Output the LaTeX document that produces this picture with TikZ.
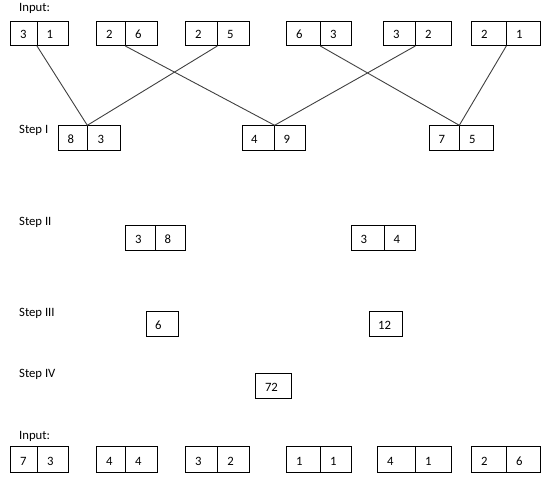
\documentclass[tikz,border=0pt]{standalone}
\usepackage{fontspec}
\setmainfont{Carlito}
\begin{document}
\begin{tikzpicture}[x=1pt,y=-1pt,every node/.style={inner sep=0pt}]
            \useasboundingbox (0,0) rectangle (545,478);
            {\fontsize{12.7}{15}\selectfont

            % Marking step labels
            \draw (19.0,12.0) node (lblintop) [anchor=base west] {Input:};%
            \draw (19.0,134.0) node (lblone) [anchor=base west] {Step I};%
            \draw (19.0,225.0) node (lbltwo) [anchor=base west] {Step II};%
            \draw (19.0,316.0) node (lblthree) [anchor=base west] {Step III};%
            \draw (19.0,377.0) node (lblfour) [anchor=base west] {Step IV};%
            \draw (19.0,439.0) node (lblinbot) [anchor=base west] {Input:};%

            % Drawing input boxes (top)
            \draw [line width=1pt] (10.3,21.3) rectangle (68.3,46.0);%
            \draw [line width=1pt] (37.0,21.3) -- (37.0,46.0);%
            \draw [line width=1pt] (96.3,21.3) rectangle (157.3,46.0);%
            \draw [line width=1pt] (125.3,21.3) -- (125.3,46.0);%
            \draw [line width=1pt] (185.3,21.3) rectangle (249.3,46.0);%
            \draw [line width=1pt] (217.3,21.3) -- (217.3,46.0);%
            \draw [line width=1pt] (286.3,21.3) rectangle (351.3,46.0);%
            \draw [line width=1pt] (320.3,21.3) -- (320.3,46.0);%
            \draw [line width=1pt] (383.3,21.3) rectangle (451.3,46.0);%
            \draw [line width=1pt] (415.3,21.3) -- (415.3,46.0);%
            \draw [line width=1pt] (471.3,21.3) rectangle (540.3,46.0);%
            \draw [line width=1pt] (506.3,21.3) -- (506.3,46.0);%
            \draw (19.8,39.0) node (ta) [anchor=base west] {3};%
            \draw (46.5,39.0) node (tb) [anchor=base west] {1};%
            \draw (105.8,39.0) node (tc) [anchor=base west] {2};%
            \draw (134.8,39.0) node (td) [anchor=base west] {6};%
            \draw (194.8,39.0) node (te) [anchor=base west] {2};%
            \draw (226.8,39.0) node (tf) [anchor=base west] {5};%
            \draw (295.8,39.0) node (tg) [anchor=base west] {6};%
            \draw (329.8,39.0) node (th) [anchor=base west] {3};%
            \draw (392.8,39.0) node (ti) [anchor=base west] {3};%
            \draw (424.8,39.0) node (tj) [anchor=base west] {2};%
            \draw (480.8,39.0) node (tk) [anchor=base west] {2};%
            \draw (515.8,39.0) node (tl) [anchor=base west] {1};%

            % Drawing step I boxes
            \draw [line width=1pt] (58.3,125.3) rectangle (120.3,150.3);%
            \draw [line width=1pt] (87.3,125.3) -- (87.3,150.3);%
            \draw [line width=1pt] (242.0,125.3) rectangle (305.3,150.3);%
            \draw [line width=1pt] (274.6,125.3) -- (274.6,150.3);%
            \draw [line width=1pt] (429.3,125.3) rectangle (493.3,150.3);%
            \draw [line width=1pt] (459.3,125.3) -- (459.3,150.3);%
            \draw (67.5,143.3) node (sa) [anchor=base west] {8};%
            \draw (97.5,143.3) node (sb) [anchor=base west] {3};%
            \draw (251.0,143.3) node (sc) [anchor=base west] {4};%
            \draw (283.5,143.3) node (sd) [anchor=base west] {9};%
            \draw (438.3,143.3) node (se) [anchor=base west] {7};%
            \draw (469.0,143.3) node (sf) [anchor=base west] {5};%

            % Drawing line pairs into step I
            \coordinate (tab) at (37.0,46.0);%
            \coordinate (tcd) at (125.3,46.0);%
            \coordinate (tef) at (217.3,46.0);%
            \coordinate (tgh) at (320.3,46.0);%
            \coordinate (tij) at (415.3,46.0);%
            \coordinate (tkl) at (506.3,46.0);%
            \coordinate (sab) at (87.3,125.3);%
            \coordinate (scd) at (274.6,125.3);%
            \coordinate (sef) at (459.3,125.3);%
            \draw [line width=0.9pt, black!75] (tab) -- (sab);%
            \draw [line width=0.9pt, black!75] (tef) -- (sab);%
            \draw [line width=0.9pt, black!75] (tcd) -- (scd);%
            \draw [line width=0.9pt, black!75] (tij) -- (scd);%
            \draw [line width=0.9pt, black!75] (tgh) -- (sef);%
            \draw [line width=0.9pt, black!75] (tkl) -- (sef);%

            % Drawing step II boxes
            \draw [line width=1pt] (125.3,225.3) rectangle (185.3,250.3);%
            \draw [line width=1pt] (155.7,225.3) -- (155.7,250.3);%
            \draw [line width=1pt] (351.3,225.3) rectangle (415.3,250.3);%
            \draw [line width=1pt] (384.3,225.3) -- (384.3,250.3);%
            \draw (135.0,243.3) node (ua) [anchor=base west] {3};%
            \draw (164.3,243.3) node (ub) [anchor=base west] {8};%
            \draw (360.3,243.3) node (uc) [anchor=base west] {3};%
            \draw (393.5,243.3) node (ud) [anchor=base west] {4};%

            % Drawing step III boxes
            \draw [line width=1pt] (146.3,311.3) rectangle (178.3,336.3);%
            \draw [line width=1pt] (369.3,311.3) rectangle (402.3,336.3);%
            \draw (155.0,329.3) node (va) [anchor=base west] {6};%
            \draw (378.0,329.3) node (vb) [anchor=base west] {12};%

            % Drawing step IV box
            \draw [line width=1pt] (255.3,373.3) rectangle (291.3,398.7);%
            \draw (264.8,391.7) node (wa) [anchor=base west] {72};%

            % Drawing input boxes (bottom)
            \draw [line width=1pt] (10.3,446.3) rectangle (68.3,472.3);%
            \draw [line width=1pt] (37.3,446.3) -- (37.3,472.3);%
            \draw [line width=1pt] (96.3,446.3) rectangle (157.3,472.3);%
            \draw [line width=1pt] (125.3,446.3) -- (125.3,472.3);%
            \draw [line width=1pt] (185.3,446.3) rectangle (249.3,472.3);%
            \draw [line width=1pt] (217.7,446.3) -- (217.7,472.3);%
            \draw [line width=1pt] (286.3,446.3) rectangle (351.3,472.3);%
            \draw [line width=1pt] (320.3,446.3) -- (320.3,472.3);%
            \draw [line width=1pt] (377.3,446.3) rectangle (451.3,472.3);%
            \draw [line width=1pt] (415.3,446.3) -- (415.3,472.3);%
            \draw [line width=1pt] (471.3,446.3) rectangle (540.3,472.3);%
            \draw [line width=1pt] (506.3,446.3) -- (506.3,472.3);%
            \draw (19.8,465.3) node (ba) [anchor=base west] {7};%
            \draw (46.8,465.3) node (bb) [anchor=base west] {3};%
            \draw (105.8,465.3) node (bc) [anchor=base west] {4};%
            \draw (134.8,465.3) node (bd) [anchor=base west] {4};%
            \draw (194.8,465.3) node (be) [anchor=base west] {3};%
            \draw (227.2,465.3) node (bf) [anchor=base west] {2};%
            \draw (295.8,465.3) node (bg) [anchor=base west] {1};%
            \draw (329.8,465.3) node (bh) [anchor=base west] {1};%
            \draw (386.8,465.3) node (bi) [anchor=base west] {4};%
            \draw (424.8,465.3) node (bj) [anchor=base west] {1};%
            \draw (480.8,465.3) node (bk) [anchor=base west] {2};%
            \draw (515.8,465.3) node (bl) [anchor=base west] {6};%
            }
        \end{tikzpicture}
\end{document}
